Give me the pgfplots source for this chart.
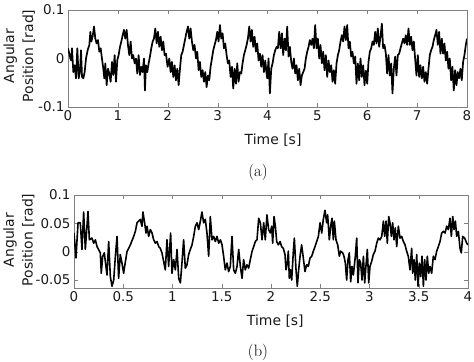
\documentclass[border=0pt]{standalone}
\usepackage{fontspec}
\newfontfamily\axf{DejaVu Sans}
\usepackage{pgfplots}
\pgfplotsset{compat=1.18}
\pgfplotsset{
  mystyle/.style={
    scale only axis,
    tick align=inside,
    axis line style={gray},
    major tick style={gray},
    /pgf/number format/assume math mode=true,
    ticklabel style={font=\axf\fontsize{13.5}{15}\selectfont, text=black!90},
    label style={font=\axf\fontsize{14}{19}\selectfont, text=black!90},
    clip=true,
  }
}
\begin{document}
\begin{tikzpicture}
\path[use as bounding box] (0,0) rectangle (474bp,-362bp);
% ---------------- (a)
\begin{axis}[mystyle,
  at={(68bp,-10bp)}, anchor=north west,
  width=399bp, height=97bp,
  xmin=0, xmax=8, ymin=-0.1, ymax=0.1,
  xtick={0,1,2,3,4,5,6,7,8},
  xticklabels={0,1,2,3,4,5,6,7,8},
  ytick={-0.1,0,0.1},
  yticklabels={-0.1,0,0.1},
  xlabel={Time [s]},
  xlabel style={at={(axis description cs:0.514,-0.34)}, anchor=center},
  ylabel={Angular\\Position [rad]},
  ylabel style={at={(axis description cs:-0.122,0.526)}, anchor=center, align=center},
]
\addplot[black, line width=1.7pt, line join=round] table {
0.000 0.021
0.027 0.010
0.060 -0.004
0.080 0.021
0.107 -0.028
0.134 -0.014
0.160 -0.041
0.187 0.021
0.214 -0.041
0.240 -0.028
0.261 0.017
0.281 -0.038
0.307 -0.041
0.334 -0.028
0.361 0.000
0.394 0.017
0.428 0.028
0.448 0.055
0.468 0.035
0.494 0.045
0.521 0.066
0.548 0.041
0.574 0.031
0.601 0.038
0.628 0.014
0.655 0.021
0.681 0.000
0.708 -0.021
0.728 -0.041
0.748 -0.010
0.775 -0.055
0.802 -0.021
0.828 -0.031
0.855 -0.048
0.882 -0.007
0.908 -0.034
0.935 0.007
0.962 -0.048
0.989 -0.003
1.015 0.007
1.042 0.024
1.069 0.035
1.096 0.048
1.122 0.059
1.149 0.041
1.176 0.059
1.202 0.028
1.229 0.007
1.256 0.035
1.283 0.000
1.309 0.007
1.336 -0.010
1.363 0.000
1.389 -0.031
1.416 0.007
1.443 -0.034
1.470 -0.017
1.496 -0.028
1.523 0.000
1.543 -0.066
1.563 -0.014
1.590 -0.028
1.617 -0.010
1.643 0.004
1.670 0.021
1.697 0.035
1.723 0.041
1.750 0.062
1.777 0.031
1.804 0.055
1.830 0.024
1.857 0.045
1.884 0.017
1.910 0.035
1.937 0.007
1.964 0.010
1.997 -0.017
2.031 0.000
2.058 -0.028
2.084 -0.007
2.111 -0.038
2.138 -0.014
2.164 -0.045
2.191 -0.021
2.218 -0.055
2.245 -0.021
2.271 0.007
2.298 0.014
2.325 0.028
2.351 0.041
2.378 0.055
2.405 0.066
2.432 0.041
2.458 0.062
2.485 0.035
2.512 0.017
2.538 0.028
2.565 0.000
2.592 0.014
2.619 -0.024
2.645 -0.007
2.672 -0.038
2.699 -0.024
2.726 -0.048
2.752 -0.028
2.779 -0.059
2.806 -0.035
2.832 -0.045
2.859 -0.017
2.886 0.000
2.913 0.017
2.939 0.028
2.966 0.038
2.993 0.055
3.019 0.035
3.046 0.069
3.073 0.041
3.100 0.052
3.126 0.021
3.153 0.031
3.180 0.007
3.206 -0.010
3.233 -0.004
3.260 -0.038
3.287 -0.017
3.313 -0.062
3.340 -0.021
3.367 -0.052
3.394 -0.010
3.420 -0.048
3.447 -0.028
3.474 -0.031
3.500 -0.010
3.527 0.007
3.554 0.017
3.581 0.028
3.607 0.041
3.634 0.066
3.661 0.035
3.687 0.059
3.714 0.024
3.741 0.045
3.768 0.014
3.794 0.031
3.821 -0.004
3.848 0.010
3.874 -0.017
3.901 0.007
3.928 -0.028
3.955 -0.004
3.981 -0.031
3.995 -0.041
4.021 0.000
4.048 -0.072
4.075 -0.021
4.102 -0.010
4.128 0.007
4.155 0.017
4.182 0.024
4.208 0.021
4.235 0.055
4.262 0.021
4.289 0.052
4.315 0.007
4.342 0.041
4.369 0.017
4.395 0.066
4.422 0.004
4.449 0.024
4.476 -0.007
4.502 -0.021
4.529 0.000
4.556 -0.031
4.582 -0.014
4.609 -0.045
4.636 -0.021
4.663 -0.055
4.689 -0.035
4.716 -0.028
4.743 -0.021
4.769 0.000
4.796 0.014
4.823 0.024
4.850 0.038
4.876 0.028
4.903 0.041
4.930 0.021
4.956 0.069
4.983 0.021
5.010 0.041
5.037 0.000
5.063 0.028
5.090 -0.010
5.117 0.014
5.143 -0.024
5.170 0.007
5.197 -0.038
5.224 -0.004
5.250 -0.028
5.277 -0.014
5.304 -0.048
5.330 -0.024
5.357 -0.052
5.384 -0.010
5.411 0.007
5.437 0.017
5.464 0.035
5.491 0.048
5.517 0.035
5.544 0.066
5.571 0.038
5.598 0.069
5.624 0.021
5.651 0.035
5.678 0.004
5.704 0.014
5.731 -0.010
5.758 0.004
5.785 -0.052
5.811 -0.010
5.838 -0.045
5.865 0.000
5.891 -0.038
5.918 -0.014
5.945 -0.055
5.972 -0.025
5.999 -0.052
6.025 -0.007
6.052 0.014
6.079 0.021
6.106 0.035
6.132 0.028
6.159 0.055
6.186 0.031
6.212 0.062
6.239 0.024
6.266 0.045
6.293 0.072
6.319 0.021
6.346 0.028
6.373 0.010
6.399 -0.031
6.426 0.007
6.453 -0.035
6.480 -0.010
6.506 -0.072
6.533 -0.021
6.560 0.004
6.586 -0.035
6.613 0.007
6.640 0.010
6.667 0.021
6.693 0.031
6.720 0.041
6.747 0.031
6.773 0.048
6.800 0.028
6.827 0.062
6.854 0.028
6.880 0.045
6.907 0.017
6.934 0.035
6.960 0.000
6.987 -0.035
7.014 0.007
7.041 -0.038
7.067 -0.014
7.094 -0.041
7.121 -0.017
7.147 -0.048
7.174 -0.028
7.201 -0.052
7.228 -0.021
7.254 0.007
7.281 0.017
7.308 0.024
7.334 0.038
7.361 0.048
7.388 0.059
7.415 0.028
7.441 0.055
7.468 0.010
7.495 0.041
7.521 0.010
7.548 0.031
7.575 -0.004
7.602 0.014
7.628 -0.021
7.655 0.000
7.682 -0.045
7.708 -0.017
7.735 -0.066
7.762 -0.024
7.789 -0.055
7.815 -0.028
7.842 -0.041
7.869 -0.021
7.895 -0.045
7.922 -0.007
7.949 0.007
7.976 0.028
8.000 0.041
};
\end{axis}
\node[font=\fontsize{16.5}{18}\selectfont, anchor=center] at (258bp,-172bp) {(a)};
% ---------------- (b)
\begin{axis}[mystyle,
  at={(74bp,-195bp)}, anchor=north west,
  width=394bp, height=93bp,
  xmin=0, xmax=4, ymin=-0.064, ymax=0.1,
  xtick={0,0.5,1,1.5,2,2.5,3,3.5,4},
  xticklabels={0,0.5,1,1.5,2,2.5,3,3.5,4},
  ytick={-0.05,0,0.05,0.1},
  yticklabels={-0.05,0,0.05,0.1},
  xlabel={Time [s]},
  xlabel style={at={(axis description cs:0.511,-0.355)}, anchor=center},
  ylabel={Angular\\Position [rad]},
  ylabel style={at={(axis description cs:-0.14,0.516)}, anchor=center, align=center},
]
\addplot[black, line width=1.6pt, line join=round] table {
0.000 0.033
0.020 -0.011
0.041 0.051
0.064 0.051
0.081 0.004
0.098 0.070
0.115 0.004
0.142 0.071
0.156 0.021
0.183 0.024
0.200 0.015
0.217 0.021
0.234 0.009
0.267 -0.002
0.277 -0.038
0.291 -0.008
0.308 -0.002
0.318 -0.017
0.335 -0.041
0.352 0.018
0.369 -0.044
0.386 -0.061
0.403 -0.050
0.420 -0.008
0.437 0.027
0.453 -0.047
0.470 -0.005
0.487 -0.020
0.504 -0.038
0.514 -0.026
0.538 0.000
0.572 0.012
0.606 0.027
0.623 0.036
0.640 0.051
0.657 0.054
0.673 0.057
0.690 0.045
0.700 0.070
0.717 0.051
0.731 0.033
0.741 0.045
0.758 0.027
0.775 0.039
0.792 0.033
0.809 0.021
0.826 0.015
0.843 0.018
0.860 0.009
0.876 0.006
0.893 -0.002
0.910 -0.017
0.927 -0.032
0.944 0.021
0.961 -0.026
0.981 0.033
0.995 -0.038
1.012 -0.014
1.029 -0.032
1.046 0.004
1.063 -0.047
1.080 -0.055
1.096 -0.020
1.113 0.021
1.130 -0.029
1.147 -0.023
1.164 -0.005
1.181 0.004
1.198 0.012
1.215 0.027
1.232 0.045
1.249 0.051
1.266 0.039
1.283 0.054
1.299 0.070
1.316 0.051
1.333 0.057
1.350 0.033
1.367 -0.008
1.384 0.062
1.401 0.021
1.418 0.027
1.435 0.018
1.452 0.027
1.469 0.015
1.486 0.021
1.503 0.012
1.519 -0.008
1.536 -0.032
1.553 -0.020
1.570 -0.035
1.587 -0.026
1.604 0.027
1.621 -0.032
1.638 -0.038
1.655 -0.026
1.672 0.004
1.689 -0.026
1.706 -0.047
1.722 -0.014
1.739 -0.032
1.756 -0.023
1.773 -0.029
1.790 -0.014
1.807 0.000
1.824 0.009
1.841 0.018
1.858 0.021
1.875 0.059
1.892 0.051
1.909 0.021
1.926 0.051
1.942 0.021
1.959 0.065
1.976 0.039
1.993 0.033
2.007 0.045
2.017 0.015
2.031 0.062
2.044 0.045
2.058 0.018
2.075 0.012
2.092 0.018
2.108 0.009
2.125 0.006
2.142 -0.005
2.152 -0.032
2.166 -0.020
2.176 0.001
2.186 -0.047
2.200 -0.032
2.210 -0.050
2.227 0.001
2.237 0.024
2.254 -0.032
2.267 -0.061
2.281 -0.032
2.295 -0.008
2.311 0.012
2.328 -0.011
2.345 -0.035
2.362 -0.023
2.379 -0.026
2.396 -0.011
2.413 -0.008
2.430 0.001
2.447 0.009
2.464 0.018
2.481 0.027
2.498 0.051
2.515 0.033
2.531 0.057
2.548 0.073
2.565 0.051
2.575 0.065
2.592 0.021
2.606 0.045
2.619 0.059
2.633 0.021
2.643 0.054
2.660 0.021
2.677 0.012
2.694 -0.008
2.707 0.001
2.728 -0.002
2.741 -0.008
2.755 -0.020
2.768 -0.050
2.782 -0.014
2.795 -0.002
2.809 -0.053
2.822 -0.026
2.836 -0.041
2.856 -0.008
2.870 0.024
2.883 -0.055
2.897 -0.014
2.910 -0.020
2.924 -0.050
2.938 -0.008
2.951 -0.055
2.965 -0.023
2.978 0.004
2.992 -0.055
3.005 -0.026
3.022 -0.017
3.039 -0.005
3.056 0.001
3.073 0.015
3.090 0.024
3.107 0.021
3.124 0.027
3.141 0.054
3.154 0.027
3.168 0.054
3.181 0.015
3.195 0.062
3.208 0.051
3.222 0.027
3.235 0.051
3.249 0.021
3.262 0.042
3.276 0.009
3.293 0.045
3.310 0.024
3.327 0.027
3.344 0.018
3.361 0.012
3.377 0.001
3.394 -0.008
3.411 -0.032
3.428 0.006
3.438 -0.038
3.452 -0.014
3.465 -0.050
3.479 -0.005
3.493 -0.061
3.506 -0.020
3.520 -0.044
3.533 -0.008
3.547 -0.061
3.560 -0.014
3.574 -0.050
3.587 -0.008
3.601 -0.038
3.614 -0.026
3.631 -0.038
3.648 -0.008
3.665 -0.014
3.682 0.001
3.699 0.009
3.716 0.018
3.733 0.033
3.750 0.036
3.767 0.033
3.784 0.045
3.800 0.039
3.817 0.059
3.831 0.027
3.845 0.062
3.858 0.039
3.872 0.054
3.885 0.027
3.902 0.036
3.919 0.006
3.932 -0.002
3.946 0.027
3.966 0.024
3.987 0.015
4.000 0.012
};
\end{axis}
\node[font=\fontsize{16.5}{18}\selectfont, anchor=center] at (258bp,-352bp) {(b)};
\end{tikzpicture}
\end{document}
